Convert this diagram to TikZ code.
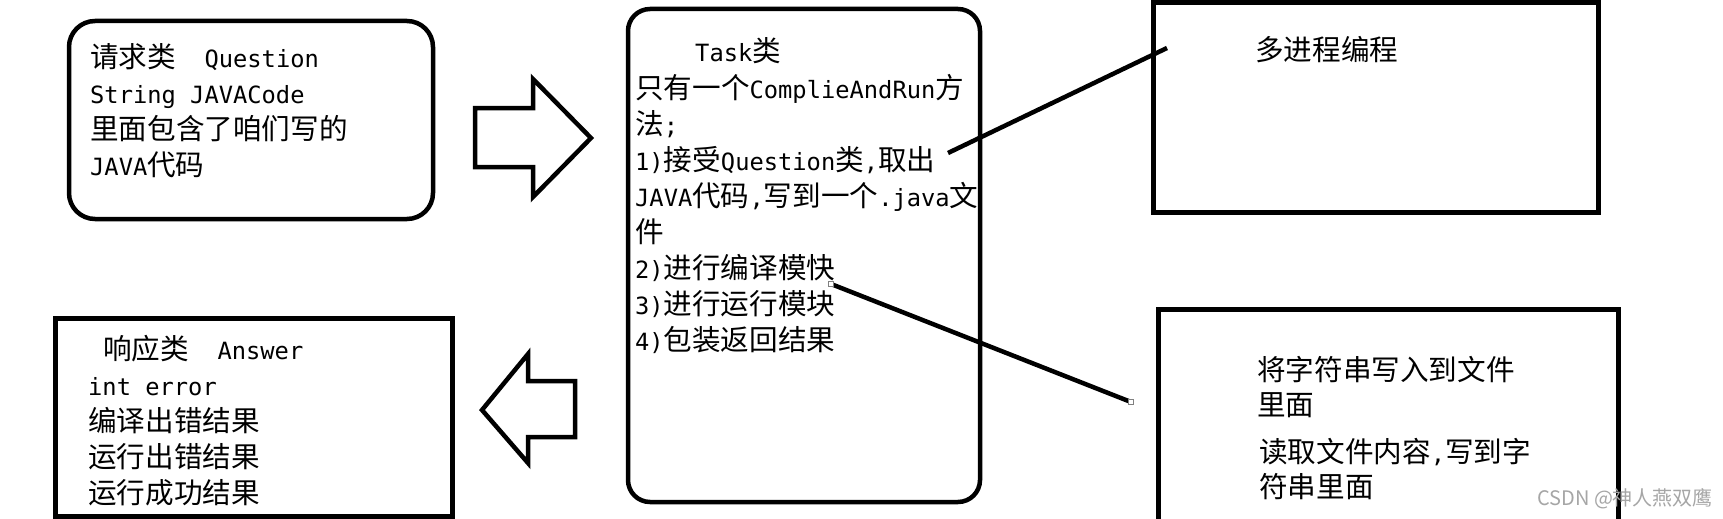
\documentclass[tikz,border=0pt]{standalone}
\usepackage{fontspec}
\setmainfont{DejaVu Sans Mono}[Scale=0.83]
\newfontfamily\cjk{Noto Sans CJK SC}
\newcommand\zh[1]{{\cjk #1}}
\tikzset{
  boxline/.style={draw=black, line width=5pt},
  roundbox/.style={draw=black, line width=4.5pt, rounded corners=26pt},
  txt/.style={anchor=base west, inner sep=0pt, font={\fontsize{28.6pt}{36pt}\selectfont}},
  bigarrow/.style={draw=black, line width=4.5pt, fill=white, line join=miter},
  link/.style={draw=black, line width=4.5pt},
  handle/.style={draw=gray, line width=1pt, fill=white, minimum size=5pt, inner sep=0pt, rectangle},
  wm/.style={anchor=base west, inner sep=0pt, text=gray!70, font={\cjk\fontsize{20pt}{24pt}\selectfont}}
}
\begin{document}
\begin{tikzpicture}[x=1pt, y=-1pt]
\useasboundingbox (0,0) rectangle (1723,519);
\clip (0,0) rectangle (1723,519);
\fill[white] (0,0) rectangle (1723,519);

% boxes
\draw[roundbox] (69,21) rectangle (433,219);
\draw[boxline] (55,318) rectangle (452,516);
\draw[roundbox, rounded corners=22pt] (628,9) rectangle (980,502);
\draw[boxline] (1153,3) rectangle (1598,212);
\draw[boxline] (1158,309) rectangle (1618,560);

% big arrows
\draw[bigarrow] (475,108) -- (533,108) -- (533,79) -- (591,138) -- (533,197) -- (533,167) -- (475,167) -- cycle;
\draw[bigarrow] (482,410) -- (528,354) -- (528,381) -- (575,381) -- (575,437) -- (528,437) -- (528,463) -- cycle;

% Question box
\node[txt] (q1) at (90,67) {\zh{请求类}\ \ Question};
\node[txt] (q2) at (90,103) {String JAVACode};
\node[txt] (q3) at (90,139) {\zh{里面包含了咱们写的}};
\node[txt] (q4) at (90,175) {JAVA\zh{代码}};

% Answer box
\node[txt] (a1) at (103,359) {\zh{响应类}\ \ Answer};
\node[txt] (a2) at (88,395) {int error};
\node[txt] (a3) at (88,431) {\zh{编译出错结果}};
\node[txt] (a4) at (88,467) {\zh{运行出错结果}};
\node[txt] (a5) at (88,503) {\zh{运行成功结果}};

% Task box
\node[txt] (t1) at (695,62) {Task\zh{类}};
\node[txt] (t2) at (635,98) {\zh{只有一个}ComplieAndRun\zh{方}};
\node[txt] (t3) at (635,134) {\zh{法};};
\node[txt] (t4) at (635,170) {1)\zh{接受}Question\zh{类},\zh{取出}};
\node[txt] (t5) at (635,206) {JAVA\zh{代码},\zh{写到一个}.java\zh{文}};
\node[txt] (t6) at (635,242) {\zh{件}};
\node[txt] (t7) at (635,278) {2)\zh{进行编译模快}};
\node[txt] (t8) at (635,314) {3)\zh{进行运行模块}};
\node[txt] (t9) at (635,350) {4)\zh{包装返回结果}};

% multi-process box
\node[txt] (m1) at (1255,60) {\zh{多进程编程}};

% file box
\node[txt] (f1) at (1257,380) {\zh{将字符串写入到文件}};
\node[txt] (f2) at (1257,415) {\zh{里面}};
\node[txt] (f3) at (1259,462) {\zh{读取文件内容},\zh{写到字}};
\node[txt] (f4) at (1259,497) {\zh{符串里面}};

% connectors
\coordinate (c1a) at (948,153);
\coordinate (c1b) at (1167,48);
\coordinate (c2a) at (831,284);
\coordinate (c2b) at (1131,402);
\draw[link] (c1a) -- (c1b);
\draw[link] (c2a) -- (c2b);
\node[handle] (h1) at (c2a) {};
\node[handle] (h2) at (c2b) {};

% watermark
\node[wm] (wmk) at (1537,505) {CSDN @神人燕双鹰};
\end{tikzpicture}
\end{document}
